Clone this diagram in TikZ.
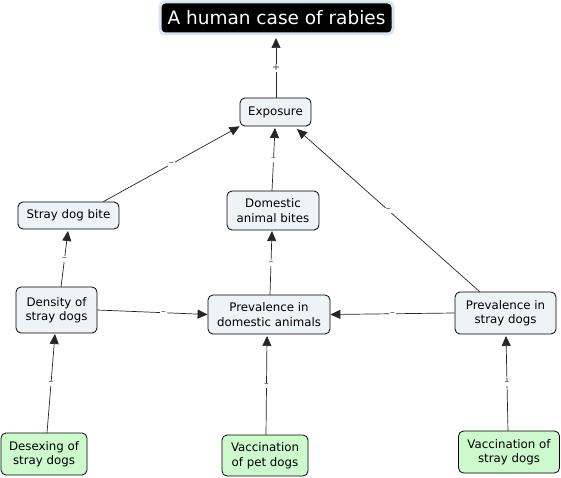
\documentclass[tikz,border=0pt]{standalone}
\usepackage{fontspec}
\setmainfont{DejaVu Sans}
\usetikzlibrary{arrows.meta}
\definecolor{bluefill}{HTML}{EEF3F6}
\definecolor{greenfill}{HTML}{CCFACC}
\definecolor{glow}{HTML}{D6E4EE}
\begin{document}
\begin{tikzpicture}[x=1pt,y=-1pt,
  concept/.style={draw=black, line width=0.8pt, rounded corners=5pt, fill=bluefill, align=center, font=\fontsize{11.8}{14.5}\selectfont, inner sep=0pt},
  greenbox/.style={concept, fill=greenfill},
  link/.style={draw=black!85, line width=0.7pt, -{Triangle[length=10pt,width=9pt]}},
  lbl/.style={fill=white, inner sep=1.5pt, font=\fontsize{9.5}{9.5}\selectfont, text=black!75}
]
\useasboundingbox (0,0) rectangle (561,478);
\node[draw=glow, line width=3pt, fill=black, rounded corners=5pt, text=white, minimum width=233pt, minimum height=32pt, inner sep=0pt, font=\fontsize{18.5}{20}\selectfont] (title) at (276.5,18) {A human case of rabies};
\node[concept, minimum width=71pt, minimum height=28pt] (exp) at (275.5,112) {Exposure};
\node[concept, minimum width=101pt, minimum height=27pt] (sdb) at (68.5,215.5) {Stray dog bite};
\node[concept, minimum width=92pt, minimum height=39pt] (dab) at (273,210.5) {Domestic\\animal bites};
\node[concept, minimum width=81pt, minimum height=46pt] (dens) at (56.5,310) {Density of\\stray dogs};
\node[concept, minimum width=122pt, minimum height=39pt] (pda) at (269,314.5) {Prevalence in\\domestic animals};
\node[concept, minimum width=101pt, minimum height=42pt] (psd) at (505.5,313) {Prevalence in\\stray dogs};
\node[greenbox, minimum width=86pt, minimum height=42pt] (desex) at (44,454) {Desexing of\\stray dogs};
\node[greenbox, minimum width=86pt, minimum height=41pt] (vpd) at (265,455.5) {Vaccination\\of pet dogs};
\node[greenbox, minimum width=101pt, minimum height=42pt] (vsd) at (509,452) {Vaccination of\\stray dogs};

\draw[link] (276,98) -- node[lbl]{+} (276,38);
\draw[link] (sdb.north east) ++(-16,0) coordinate (a1) (a1) -- node[lbl]{–} (exp.south west);
\draw[link] (272,191) -- node[lbl]{–} (275,128);
\draw[link] (480,292) -- node[lbl]{–} (297,129);
\draw[link] (61,287) -- node[lbl]{–} (68,231);
\draw[link] (dens.east) -- node[lbl,pos=0.6]{–} (pda.west);
\draw[link] (psd.west) -- node[lbl,pos=0.5]{–} (pda.east);
\draw[link] (270,295) -- node[lbl]{–} (272,231);
\draw[link] (47,433) -- node[lbl]{–} (55,334);
\draw[link] (266,435) -- node[lbl]{–} (267,336);
\draw[link] (508,431) -- node[lbl]{–} (506,336);
\end{tikzpicture}
\end{document}
